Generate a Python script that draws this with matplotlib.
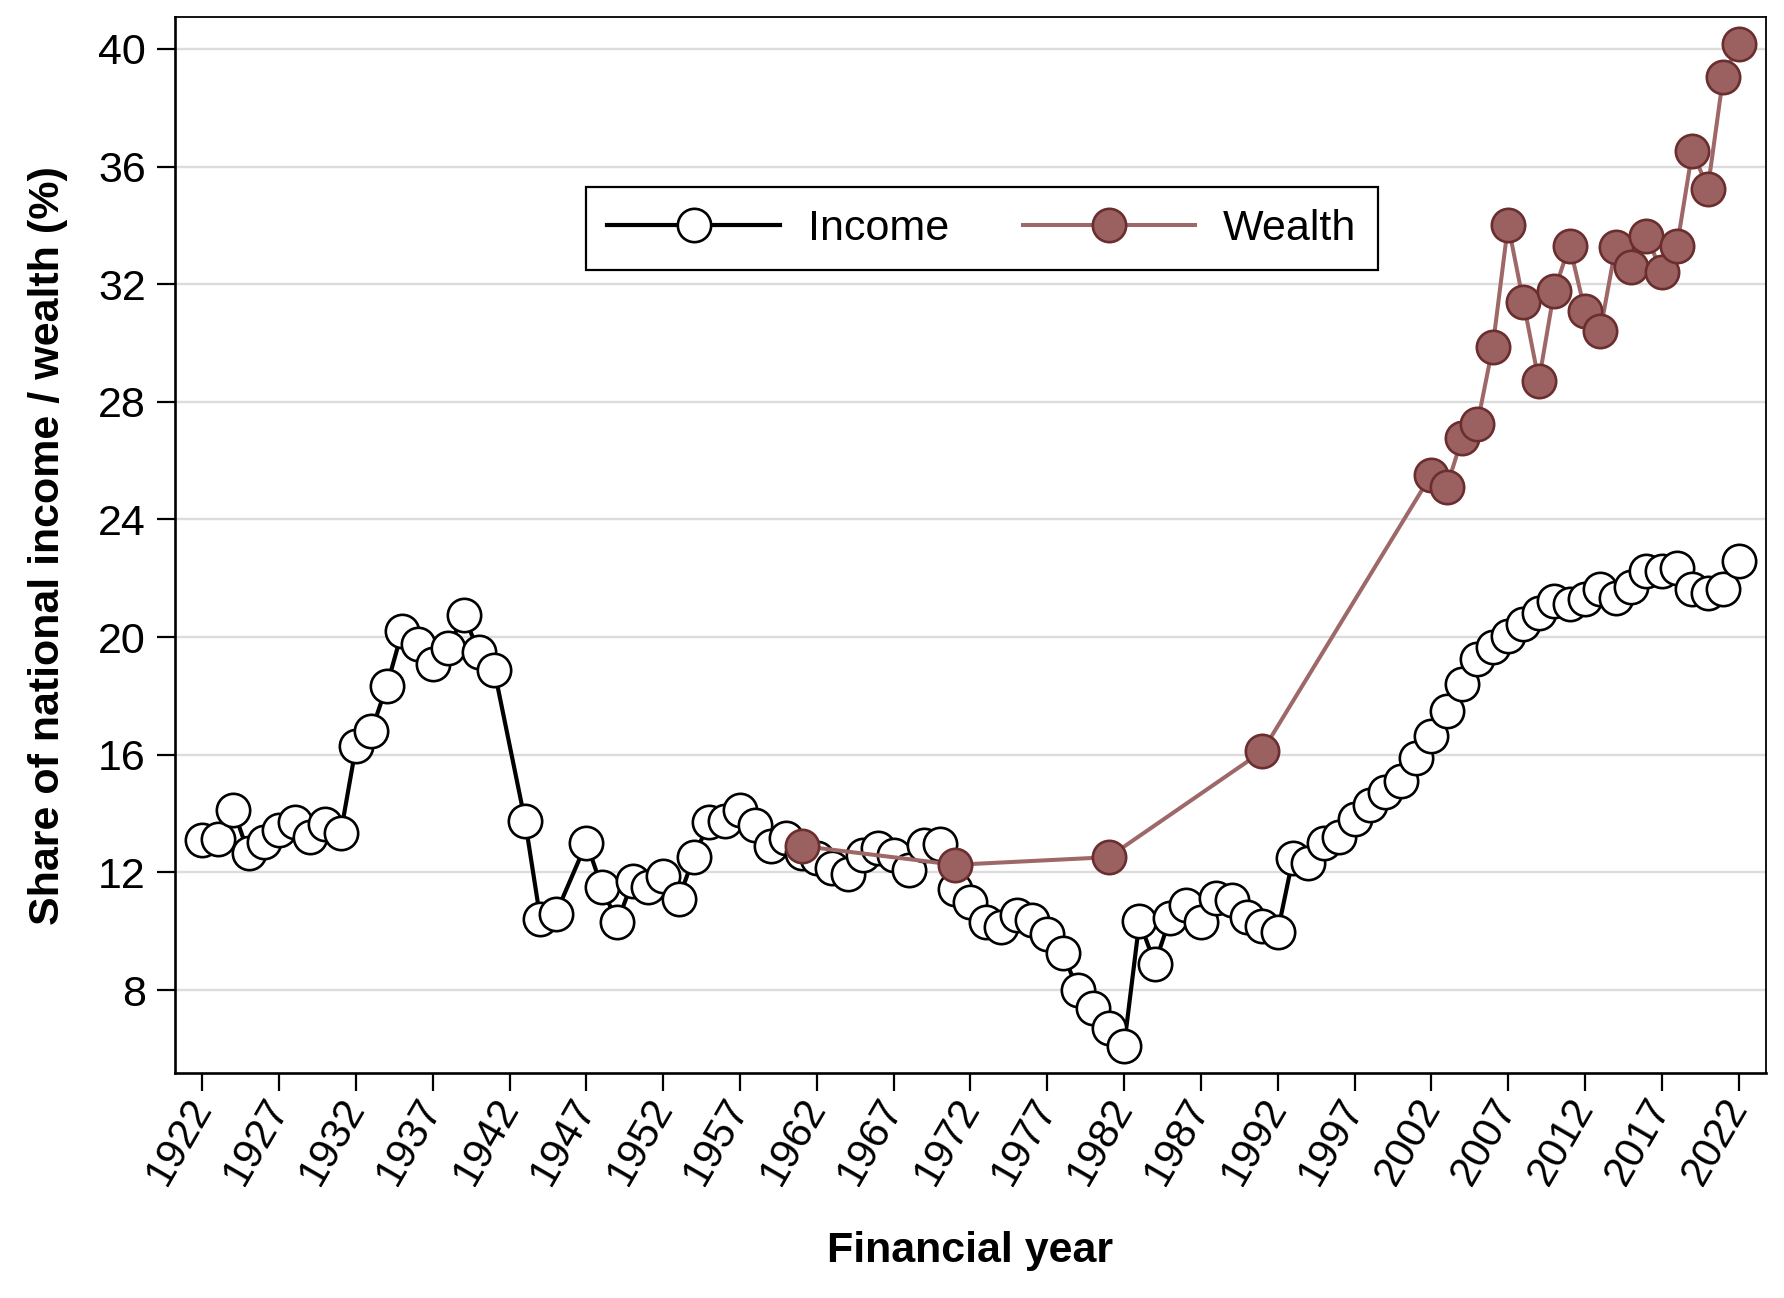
import matplotlib
matplotlib.use("Agg")
import matplotlib.pyplot as plt

# ---------------- data ----------------
income_years = [1922, 1923, 1924, 1925, 1926, 1927, 1928, 1929, 1930, 1931,
                1932, 1933, 1934, 1935, 1936, 1937, 1938, 1939, 1940, 1941,
                1943, 1944, 1945, 1947, 1948, 1949, 1950, 1951, 1952, 1953,
                1954, 1955, 1956, 1957, 1958, 1959, 1960, 1961, 1962, 1963,
                1964, 1965, 1966, 1967, 1968, 1969, 1970, 1971, 1972, 1973,
                1974, 1975, 1976, 1977, 1978, 1979, 1980, 1981, 1982, 1983,
                1984, 1985, 1986, 1987, 1988, 1989, 1990, 1991, 1992, 1993,
                1994, 1995, 1996, 1997, 1998, 1999, 2000, 2001, 2002, 2003,
                2004, 2005, 2006, 2007, 2008, 2009, 2010, 2011, 2012, 2013,
                2014, 2015, 2016, 2017, 2018, 2019, 2020, 2021, 2022]
income_share = [13.10, 13.15, 14.14, 12.65, 13.04, 13.45, 13.70, 13.22, 13.65, 13.34,
                16.30, 16.82, 18.34, 20.20, 19.75, 19.10, 19.64, 20.75, 19.49, 18.87,
                13.76, 10.41, 10.59, 13.01, 11.50, 10.30, 11.70, 11.50, 11.88, 11.10,
                12.54, 13.73, 13.75, 14.13, 13.62, 12.90, 13.17, 12.66, 12.50, 12.15,
                11.95, 12.60, 12.83, 12.60, 12.10, 12.94, 12.97, 11.45, 11.00, 10.30,
                10.13, 10.55, 10.38, 9.92, 9.25, 8.01, 7.38, 6.70, 6.11, 10.34,
                8.90, 10.45, 10.88, 10.31, 11.13, 11.05, 10.50, 10.18, 9.99, 12.50,
                12.33, 13.01, 13.21, 13.82, 14.30, 14.72, 15.10, 15.88, 16.65, 17.48,
                18.39, 19.25, 19.67, 20.03, 20.43, 20.83, 21.22, 21.13, 21.28, 21.62,
                21.34, 21.70, 22.24, 22.26, 22.36, 21.62, 21.50, 21.64, 22.60]

wealth_years = [1961, 1971, 1981, 1991, 2002, 2003, 2004, 2005, 2006, 2007,
                2008, 2009, 2010, 2011, 2012, 2013, 2014, 2015, 2016, 2017,
                2018, 2019, 2020, 2021, 2022]
wealth_share = [12.90, 12.26, 12.52, 16.12, 25.52, 25.10, 26.76, 27.25, 29.88, 34.02,
                31.38, 28.71, 31.77, 33.31, 31.10, 30.41, 33.26, 32.57, 33.64, 32.43,
                33.31, 36.54, 35.25, 39.04, 40.16]

x_ticks = list(range(1922, 2023, 5))
y_ticks = list(range(8, 41, 4))
series_labels = ["Income", "Wealth"]

# ---------------- figure ----------------
plt.rcParams['font.family'] = ['Liberation Sans', 'DejaVu Sans']

fig = plt.figure(figsize=(17.84, 12.98), dpi=100)
ax = fig.add_axes([0.098, 0.1733, 0.892, 0.8133])

ax.set_xlim(1920.2, 2023.8)
ax.set_ylim(5.18, 41.07)

ax.set_yticks(y_ticks)
ax.set_xticks(x_ticks)
ax.yaxis.grid(True, color='#dcdcdc', linewidth=1.7)
ax.set_axisbelow(True)

ax.plot(income_years, income_share, color='black', linewidth=3.0,
        marker='o', markersize=24, markerfacecolor='white',
        markeredgecolor='black', markeredgewidth=1.9,
        label=series_labels[0], zorder=3)
ax.plot(wealth_years, wealth_share, color='#9e6868', linewidth=2.9,
        marker='o', markersize=24, markerfacecolor='#9b6161',
        markeredgecolor='#6b2e2e', markeredgewidth=1.9,
        label=series_labels[1], zorder=4)

for side in ['left', 'bottom']:
    ax.spines[side].set_linewidth(1.9)
for side in ['top', 'right']:
    ax.spines[side].set_linewidth(1.3)

ax.tick_params(axis='both', direction='out', length=13, width=1.6, color='black')
ax.tick_params(axis='y', labelsize=31, pad=8)
ax.tick_params(axis='x', labelsize=30, pad=7)
for lab in ax.get_xticklabels():
    lab.set_rotation(60)
    lab.set_ha('right')
    lab.set_va('center')
    lab.set_rotation_mode('anchor')

ax.set_ylabel("Share of national income / wealth (%)", fontsize=31,
              fontweight='bold', va='center')
ax.yaxis.set_label_coords(-0.0796, 0.5)
ax.set_xlabel("Financial year", fontsize=31, fontweight='bold', va='center')
ax.xaxis.set_label_coords(0.5, -0.1686)

leg = ax.legend(loc='center', bbox_to_anchor=(0.5072, 0.7996), ncol=2,
                fontsize=31, frameon=True, fancybox=False, framealpha=1,
                edgecolor='black', handlelength=4.0, handletextpad=0.65,
                columnspacing=1.72, borderpad=0.5, numpoints=1)
leg.get_frame().set_linewidth(1.6)

fig.savefig("out.png", dpi=100)
